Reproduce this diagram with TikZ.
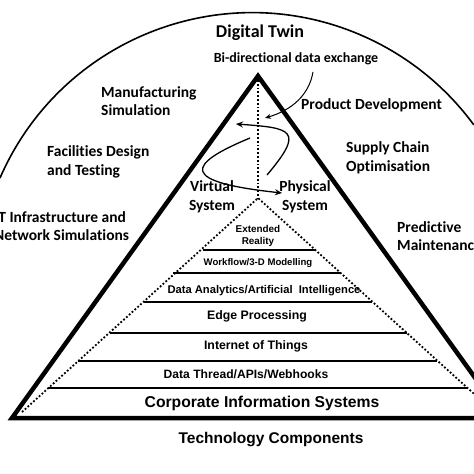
\documentclass[tikz,border=0pt]{standalone}
\usepackage{fontspec}
\setmainfont{Carlito}[Ligatures={NoCommon}]
\newfontfamily\layerfont{Liberation Sans}
\usetikzlibrary{arrows.meta}

\tikzset{
  twinlabel/.style={font=\bfseries\fontsize{15.5}{18.5}\selectfont, align=left, inner sep=0pt},
  layerlabel/.style={font=\layerfont\bfseries\fontsize{12.3}{14}\selectfont, inner sep=0pt},
  flowarrow/.style={line width=1.3pt, -{Stealth[length=7pt,width=6pt]}},
}

\begin{document}
\begin{tikzpicture}[x=1pt,y=-1pt]

        \useasboundingbox (0,0) rectangle (474,474);
        \clip (0,0) rectangle (474,474);

        \draw[line width=1.6pt] (0,178) arc[start angle=203.5, end angle=323.7, radius=275];

        \coordinate (apex) at (258,76);
        \coordinate (baseL) at (12,418);
        \coordinate (baseR) at (504,418);
        \draw[line width=4.5pt, line join=miter] (baseL) -- (apex) -- (baseR) -- cycle;

        \coordinate (inapex) at (258,198);
        \draw[line width=1.8pt, dotted] (258,80) -- (inapex);
        \draw[line width=1.8pt, dotted] (22,412) -- (inapex) -- (494,412);

        \draw[line width=1.5pt] (203,250) -- (315,250);
        \draw[line width=1.5pt] (173,273) -- (341,273);
        \draw[line width=1.5pt] (144,302) -- (372,302);
        \draw[line width=1.5pt] (110,333) -- (407,333);
        \draw[line width=1.5pt] (78,361) -- (437,361);
        \draw[line width=1.5pt] (48,388) -- (468,388);

        \node[font=\bfseries\fontsize{18}{21}\selectfont, inner sep=0pt] (twin) at (260,33) {Digital Twin};
        \node[font=\bfseries\fontsize{14}{16}\selectfont, inner sep=0pt] (bidir) at (296,59) {Bi-directional data exchange};

        \node[twinlabel, anchor=west] (manuf) at (101,101) {Manufacturing\\Simulation};
        \node[twinlabel, anchor=west] (facil) at (47,162) {Facilities Design\\and Testing};
        \node[twinlabel, anchor=west] (itinfra) at (-6,226) {IT Infrastructure and\\Network Simulations};
        \node[twinlabel, anchor=west] (product) at (301,105) {Product Development};
        \node[twinlabel, anchor=west] (supply) at (346,158) {Supply Chain\\Optimisation};
        \node[twinlabel, anchor=west] (predict) at (397,236) {Predictive\\Maintenance};

        \node[twinlabel, align=center] (virtual) at (212,197) {Virtual\\System};
        \node[twinlabel, align=center] (physical) at (305,197) {Physical\\System};

        \coordinate (bidirend) at (265,118);
        \draw[line width=1pt, -{Stealth[length=6pt,width=5pt]}] (313,72) .. controls (309,95) and (292,110) .. (bidirend);

        \coordinate (toVirtual) at (236,124);
        \coordinate (toPhysical) at (282,193);
        \draw[flowarrow] (267,175) .. controls (305,130) and (292,128) .. (toVirtual);
        \draw[flowarrow] (250,138) .. controls (185,165) and (180,182) .. (toPhysical);

        \node[layerlabel, align=center, font=\layerfont\bfseries\fontsize{9.9}{12.5}\selectfont] (xr) at (258,236) {Extended\\Reality};
        \node[layerlabel, font=\layerfont\bfseries\fontsize{9.6}{11}\selectfont] (workflow) at (258,263) {Workflow/3-D Modelling};
        \node[layerlabel, font=\layerfont\bfseries\fontsize{11.2}{13}\selectfont] (analytics) at (264,291) {Data Analytics/Artificial\ \ Intelligence};
        \node[layerlabel] (edge) at (257,316) {Edge Processing};
        \node[layerlabel] (iot) at (256,346) {Internet of Things};
        \node[layerlabel, font=\layerfont\bfseries\fontsize{12.1}{14}\selectfont] (thread) at (246,374) {Data Thread/APIs/Webhooks};
        \node[layerlabel, font=\layerfont\bfseries\fontsize{15.7}{18}\selectfont] (corporate) at (262,403) {Corporate Information Systems};

        \node[layerlabel, font=\layerfont\bfseries\fontsize{15.5}{18}\selectfont] (techcomp) at (271,440) {Technology Components};
    \end{tikzpicture}
\end{document}
